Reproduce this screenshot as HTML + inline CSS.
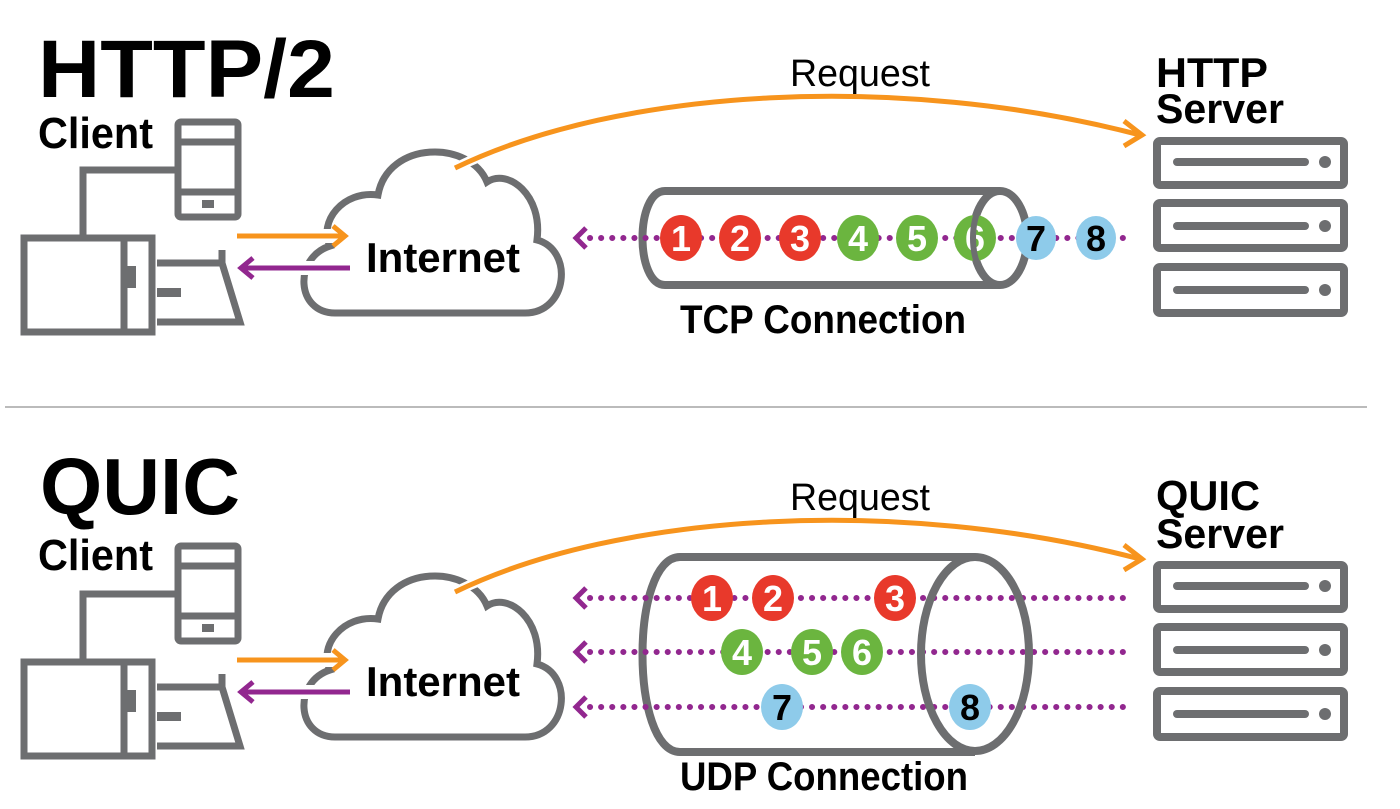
<!DOCTYPE html>
<html><head><meta charset="utf-8"><style>
html,body{margin:0;padding:0;background:#fff;}
svg{display:block;}
text{font-family:"Liberation Sans Narrow","Liberation Sans",sans-serif;}
</style></head><body>
<svg width="1400" height="809" viewBox="0 0 1400 809" xmlns="http://www.w3.org/2000/svg">
<defs>
<g id="client" fill="none" stroke="#6d6e70" stroke-width="7">
  <rect x="178" y="122" width="60" height="95" rx="3"/>
  <line x1="178" y1="142" x2="238" y2="142"/>
  <line x1="178" y1="192" x2="238" y2="192"/>
  <rect x="202" y="200" width="12" height="8" fill="#6d6e70" stroke="none"/>
  <polyline points="175,170 83,170 83,237"/>
  <rect x="24" y="238" width="128" height="94"/>
  <line x1="124" y1="238" x2="124" y2="332"/>
  <rect x="126" y="266" width="10" height="22" fill="#6d6e70" stroke="none"/>
  <polyline points="157,263 222,263 222,250"/>
  <polyline points="222,263 240,322 157,322"/>
  <rect x="157" y="288" width="24" height="9" fill="#6d6e70" stroke="none"/>
</g>
<g id="cloud">
  <path d="M335,313 H525 C568,313 574,250 537,240 C543,195 508,168 487,182 C470,140 388,140 378,195 C343,190 318,222 330,246 C293,258 296,313 335,313 Z" fill="none" stroke="#6d6e70" stroke-width="7"/>
  <line x1="237" y1="236" x2="342" y2="236" stroke="#fff" stroke-width="14"/>
  <line x1="246" y1="268" x2="350" y2="268" stroke="#fff" stroke-width="14"/>
  <line x1="237" y1="236" x2="342" y2="236" stroke="#f7941d" stroke-width="5"/>
  <polyline points="333,226 345,236 333,246" fill="none" stroke="#f7941d" stroke-width="5"/>
  <line x1="244" y1="268" x2="350" y2="268" stroke="#92278f" stroke-width="5"/>
  <polyline points="253,258 241,268 253,278" fill="none" stroke="#92278f" stroke-width="5"/>
  <rect x="360" y="238" width="165" height="42" fill="#fff"/>
  <text x="366" y="272" font-size="42" font-weight="bold" textLength="154" lengthAdjust="spacingAndGlyphs">Internet</text>
  <path d="M455,168 C620,88 900,72 1140,135" fill="none" stroke="#fff" stroke-width="10"/>
  <path d="M455,168 C620,88 900,72 1140,135" fill="none" stroke="#f7941d" stroke-width="5"/>
  <polyline points="1124,121 1142,135 1124,146" fill="none" stroke="#f7941d" stroke-width="5"/>
  <text x="790" y="86" font-size="38" textLength="140" lengthAdjust="spacingAndGlyphs">Request</text>
</g>
<g id="servers" fill="none" stroke="#6d6e70" stroke-width="8">
  <rect x="1157" y="141" width="187" height="44" rx="3"/>
  <rect x="1157" y="203" width="187" height="45" rx="3"/>
  <rect x="1157" y="267" width="187" height="46" rx="3"/>
  <g stroke-linecap="round">
    <line x1="1177" y1="162" x2="1305" y2="162"/>
    <line x1="1177" y1="226" x2="1305" y2="226"/>
    <line x1="1177" y1="290" x2="1305" y2="290"/>
  </g>
  <g fill="#6d6e70" stroke="none">
    <circle cx="1325" cy="162" r="6"/><circle cx="1325" cy="226" r="6"/><circle cx="1325" cy="290" r="6"/>
  </g>
</g>
</defs>

<!-- HTTP/2 -->
<text x="38" y="97" font-size="82" font-weight="bold" textLength="297" lengthAdjust="spacingAndGlyphs">HTTP/2</text>
<text x="38" y="148" font-size="44" font-weight="bold" textLength="115" lengthAdjust="spacingAndGlyphs">Client</text>
<use href="#client"/>
<use href="#cloud"/>
<text x="1156" y="87" font-size="42" font-weight="bold" textLength="112" lengthAdjust="spacingAndGlyphs">HTTP</text>
<text x="1156" y="123" font-size="42" font-weight="bold" textLength="128" lengthAdjust="spacingAndGlyphs">Server</text>
<use href="#servers"/>

<!-- TCP tube -->
<path d="M1000,191 H665 C635,191 635,285 665,285 H1000" fill="none" stroke="#6d6e70" stroke-width="8"/>
<ellipse cx="1000" cy="238" rx="27" ry="47" fill="none" stroke="#6d6e70" stroke-width="8"/>
<line x1="590" y1="238" x2="1130" y2="238" stroke="#92278f" stroke-width="6" stroke-dasharray="0.1 11" stroke-linecap="round"/>
<polyline points="586,228 576,238 586,248" fill="none" stroke="#92278f" stroke-width="5"/>
<g font-size="36" font-weight="bold" text-anchor="middle">
  <g fill="#e8392b"><ellipse cx="681" cy="238" rx="21" ry="23"/><ellipse cx="740" cy="238" rx="21" ry="23"/><ellipse cx="800" cy="238" rx="21" ry="23"/></g>
  <g fill="#6bb53f"><ellipse cx="858" cy="238" rx="21" ry="23"/><ellipse cx="917" cy="238" rx="21" ry="23"/><ellipse cx="975" cy="238" rx="21" ry="23"/></g>
  <g fill="#8ecbea"><ellipse cx="1036" cy="238" rx="20" ry="22"/><ellipse cx="1096" cy="238" rx="20" ry="22"/></g>
  <g fill="#fff"><text x="681" y="251">1</text><text x="740" y="251">2</text><text x="800" y="251">3</text><text x="858" y="251">4</text><text x="917" y="251">5</text><text x="975" y="251">6</text></g>
  <path d="M1000,191 A27,47 0 0 0 1000,285" fill="none" stroke="#6d6e70" stroke-width="6"/>
  <g fill="#000"><text x="1036" y="251">7</text><text x="1096" y="251">8</text></g>
</g>
<text x="680" y="333" font-size="40" font-weight="bold" textLength="286" lengthAdjust="spacingAndGlyphs">TCP Connection</text>

<line x1="5" y1="407" x2="1367" y2="407" stroke="#bbbbbb" stroke-width="2"/>

<!-- QUIC -->
<text x="40" y="514" font-size="80" font-weight="bold" textLength="200" lengthAdjust="spacingAndGlyphs">QUIC</text>
<text x="38" y="570" font-size="44" font-weight="bold" textLength="115" lengthAdjust="spacingAndGlyphs">Client</text>
<g transform="translate(0,424)">
  <use href="#client"/>
  <use href="#cloud"/>
  <use href="#servers"/>
</g>
<text x="1156" y="510" font-size="42" font-weight="bold" textLength="104" lengthAdjust="spacingAndGlyphs">QUIC</text>
<text x="1156" y="548" font-size="42" font-weight="bold" textLength="128" lengthAdjust="spacingAndGlyphs">Server</text>

<!-- UDP tube -->
<path d="M975,557 H680 C630,557 630,752 680,752 H975" fill="none" stroke="#6d6e70" stroke-width="8"/>
<g stroke="#92278f" stroke-width="6" fill="none">
  <line x1="590" y1="598" x2="1130" y2="598" stroke-dasharray="0.1 11" stroke-linecap="round"/>
  <line x1="590" y1="652" x2="1130" y2="652" stroke-dasharray="0.1 11" stroke-linecap="round"/>
  <line x1="590" y1="707" x2="1130" y2="707" stroke-dasharray="0.1 11" stroke-linecap="round"/>
</g>
<g stroke="#92278f" stroke-width="5" fill="none">
  <polyline points="586,588 576,598 586,608"/>
  <polyline points="586,642 576,652 586,662"/>
  <polyline points="586,697 576,707 586,717"/>
</g>
<ellipse cx="975" cy="654" rx="54" ry="97" fill="none" stroke="#6d6e70" stroke-width="8"/>
<g font-size="36" font-weight="bold" text-anchor="middle">
  <g fill="#e8392b"><ellipse cx="712" cy="598" rx="21" ry="23"/><ellipse cx="773" cy="598" rx="21" ry="23"/><ellipse cx="895" cy="598" rx="21" ry="23"/></g>
  <g fill="#6bb53f"><ellipse cx="742" cy="652" rx="21" ry="23"/><ellipse cx="812" cy="652" rx="21" ry="23"/><ellipse cx="862" cy="652" rx="21" ry="23"/></g>
  <g fill="#8ecbea"><ellipse cx="782" cy="707" rx="21" ry="23"/><ellipse cx="970" cy="707" rx="21" ry="23"/></g>
  <g fill="#fff"><text x="712" y="611">1</text><text x="773" y="611">2</text><text x="895" y="611">3</text><text x="742" y="665">4</text><text x="812" y="665">5</text><text x="862" y="665">6</text></g>
  <g fill="#000"><text x="782" y="720">7</text><text x="970" y="720">8</text></g>
</g>
<text x="680" y="790" font-size="40" font-weight="bold" textLength="288" lengthAdjust="spacingAndGlyphs">UDP Connection</text>
</svg>
</body></html>
